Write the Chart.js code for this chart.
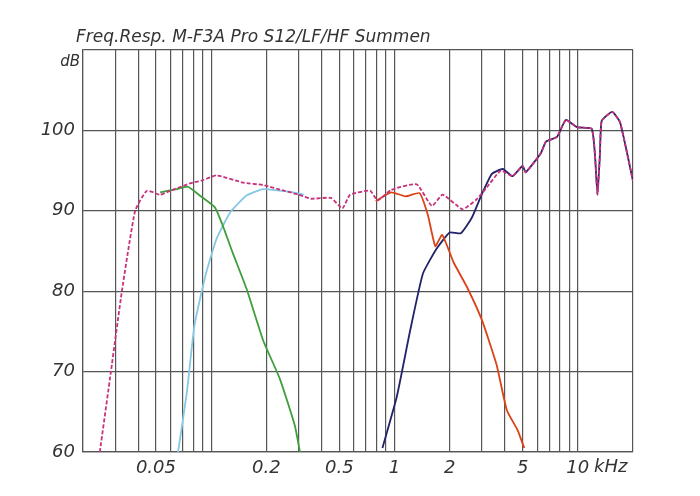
<!DOCTYPE html>
<html>
<head>
<meta charset="utf-8">
<script src="https://cdn.jsdelivr.net/npm/chart.js@4"></script>
<style>
body{margin:0;background:#fff;}
#wrap{width:700px;height:496px;}
</style>
</head>
<body>
<div id="wrap"><canvas id="frChart" width="700" height="496"></canvas></div>
<script>
// frequency in kHz, level in dB
var sum_f=[0.0247,0.0284,0.0326,0.0385,0.0446,0.0526,0.06,0.0766,0.09,0.107,0.15,0.192,0.25,0.3,0.35,0.45,0.52,0.573,0.736,0.81,0.96,1.32,1.6,1.83,2.35,2.8,3.16,3.8,4.4,5.0,5.2,6.3,6.7,7.7,8.6,9.9,11.9,12.4,12.8,13.2,13.5,15.4,17,20];
var sum_db=[60,70,80,90,92.5,92,92.5,93.4,93.8,94.4,93.5,93.2,92.5,92,91.5,91.6,90.3,92,92.5,91.3,92.6,93.3,90.6,92,90.2,91.4,92.8,95,94.3,95.6,94.8,97.2,98.6,99.2,101.3,100.4,100.2,97,92,97,101.2,102.3,101,93.7];

var lf1_f=[0.0527,0.0652,0.0746,0.0867,0.105,0.116,0.131,0.156,0.192,0.237,0.286,0.305];
var lf1_db=[92.3,92.7,93,91.9,90.4,88.1,84.8,80.3,73.9,69.1,63.3,60];

var lf2_f=[0.066,0.0737,0.081,0.093,0.107,0.127,0.156,0.192,0.237,0.28,0.32];
var lf2_db=[60,67.4,75.7,81.9,86.5,89.8,91.9,92.7,92.5,92.3,92];

var mid_f=[0.79,0.96,1.15,1.37,1.52,1.67,1.82,2.1,2.5,3.0,3.6,4.1,4.7,5.1];
var mid_db=[91.2,92.3,91.8,92.2,89.5,85.6,87,83.6,80.4,76.4,70.9,65.2,62.7,60.5];

var hf_f=[0.86,1.03,1.22,1.43,1.7,2.0,2.3,2.65,3.0,3.4,3.9,4.4,5.0,5.2,6.3,6.7,7.7,8.6,9.9,11.9,12.4,12.8,13.2,13.5,15.4,17,20];
var hf_db=[60.5,66.9,75.2,82.2,85.3,87.3,87.2,89.2,92.1,94.6,95.2,94.3,95.6,94.8,97.2,98.6,99.2,101.3,100.4,100.2,97,92,97,101.2,102.3,101,93.7];

var grid_x=[0.02,0.03,0.04,0.05,0.06,0.07,0.08,0.09,0.1,0.2,0.3,0.4,0.5,0.6,0.7,0.8,0.9,1,2,3,4,5,6,7,8,9,10,20];
var label_x=[0.05,0.2,0.5,1,2,5,10];
var grid_y=[60,70,80,90,100,110];
var label_y=[60,70,80,90,100];

function pts(f,d){
    var out=[];
    for(var i=0;i<f.length;i++){ out.push({x:f[i],y:d[i]}); }
    return out;
}

var tickFont={family:"DejaVu Sans",size:18,style:"italic"};

var textPlugin={
    id:"texts",
    afterDraw:function(chart){
        var c=chart.ctx;
        var a=chart.chartArea;
        c.save();
        c.fillStyle="#333";
        c.font="italic 17px 'DejaVu Sans'";
        c.textAlign="left";
        c.fillText("Freq.Resp. M-F3A Pro S12/LF/HF Summen",76,42);
        c.font="italic 15px 'DejaVu Sans'";
        c.textAlign="right";
        c.fillText("dB",a.left-3,a.top+16);
        c.font="italic 18px 'DejaVu Sans'";
        c.textAlign="left";
        c.fillText("kHz",594,472);
        c.restore();
    }
};

function line(label,data,color,dashed,width){
    return {label:label,data:data,borderColor:color,backgroundColor:color,
        borderWidth:width,borderDash:dashed?[4,2]:[],pointRadius:0,showLine:true,tension:0.15};
}

// first dataset is drawn on top
var frChart=new Chart(document.getElementById("frChart").getContext("2d"),{
    type:"scatter",
    data:{
        datasets:[
            line("Summe",pts(sum_f,sum_db),"#c8327a",true,1.8),
            line("MF",pts(mid_f,mid_db),"#dc4218",false,1.8),
            line("LF1",pts(lf1_f,lf1_db),"#3f9e3a",false,1.8),
            line("LF2",pts(lf2_f,lf2_db),"#86c8e6",false,1.8),
            line("HF",pts(hf_f,hf_db),"#22226a",false,1.8)
        ]
    },
    options:{
        responsive:false,
        animation:false,
        layout:{padding:{left:0,top:50,right:67,bottom:0}},
        plugins:{legend:{display:false},tooltip:{enabled:false}},
        scales:{
            x:{
                type:"logarithmic",min:0.02,max:20,
                afterBuildTicks:function(ax){ ax.ticks=grid_x.map(function(v){return {value:v};}); },
                afterFit:function(ax){ ax.height=44; },
                grid:{color:"#555",lineWidth:1.2,drawTicks:false},
                border:{color:"#555",width:1.2},
                ticks:{autoSkip:false,maxRotation:0,color:"#333",font:tickFont,padding:6,
                    callback:function(v){ return label_x.indexOf(v)>=0 ? String(v) : ""; }}
            },
            y:{
                min:60,max:110,
                afterBuildTicks:function(ax){ ax.ticks=grid_y.map(function(v){return {value:v};}); },
                afterFit:function(ax){ ax.width=83; },
                grid:{color:"#555",lineWidth:1.2,drawTicks:false},
                border:{color:"#555",width:1.2},
                ticks:{color:"#333",font:tickFont,padding:8,
                    callback:function(v){ return label_y.indexOf(v)>=0 ? String(v) : ""; }}
            }
        }
    },
    plugins:[textPlugin]
});
</script>
</body>
</html>
